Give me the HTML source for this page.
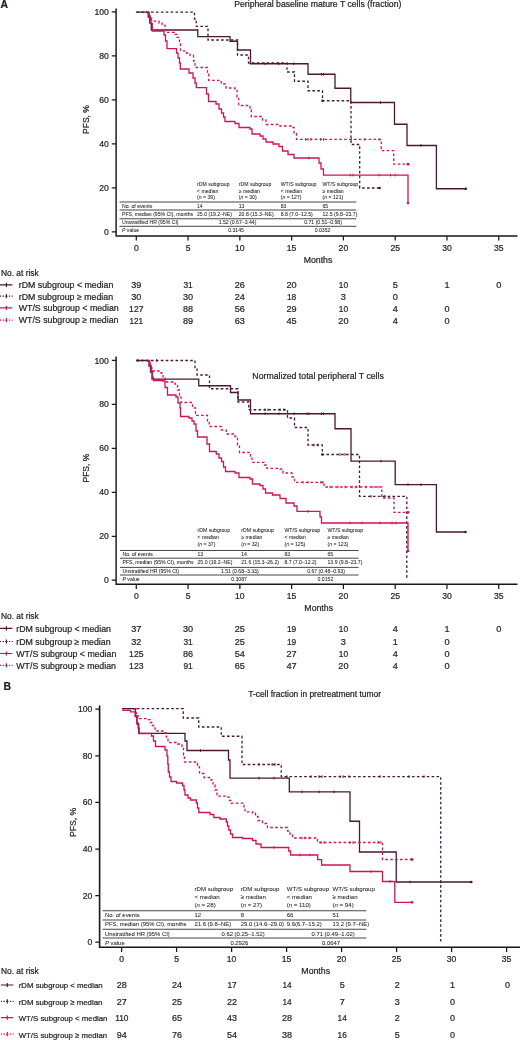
<!DOCTYPE html>
<html lang="en"><head><meta charset="utf-8"><title>PFS by T-cell subgroups</title>
<style>html,body{margin:0;padding:0;background:#fff}svg{display:block}text{font-family:"Liberation Sans",sans-serif;fill:#231f20;stroke:#231f20;stroke-width:0.22px}.t text{stroke-width:0.06px}</style>
</head><body>
<svg width="520" height="1040" viewBox="0 0 520 1040">
<rect width="520" height="1040" fill="#fff"/>
<g id="chart1">
<text x="0.6" y="8.2" font-size="10.4" font-weight="bold">A</text>
<text x="317.8" y="7.1" font-size="8.66" text-anchor="middle">Peripheral baseline mature T cells (fraction)</text>
<path d="M116.1 8.6V235.9H517.5" fill="none" stroke="#1a1718" stroke-width="1.45"/>
<text x="108.9" y="14.8" font-size="8.6" text-anchor="end">100</text>
<text x="108.9" y="58.81" font-size="8.6" text-anchor="end">80</text>
<text x="108.9" y="102.82" font-size="8.6" text-anchor="end">60</text>
<text x="108.9" y="146.83" font-size="8.6" text-anchor="end">40</text>
<text x="108.9" y="190.84" font-size="8.6" text-anchor="end">20</text>
<text x="108.9" y="234.85" font-size="8.6" text-anchor="end">0</text>
<text x="136.3" y="251.1" font-size="8.6" text-anchor="middle">0</text>
<text x="188.08" y="251.1" font-size="8.6" text-anchor="middle">5</text>
<text x="239.85" y="251.1" font-size="8.6" text-anchor="middle">10</text>
<text x="291.62" y="251.1" font-size="8.6" text-anchor="middle">15</text>
<text x="343.4" y="251.1" font-size="8.6" text-anchor="middle">20</text>
<text x="395.18" y="251.1" font-size="8.6" text-anchor="middle">25</text>
<text x="446.95" y="251.1" font-size="8.6" text-anchor="middle">30</text>
<text x="498.73" y="251.1" font-size="8.6" text-anchor="middle">35</text>
<path d="M116.1 11.75h-4.3M116.1 55.76h-4.3M116.1 99.77h-4.3M116.1 143.78h-4.3M116.1 187.79h-4.3M116.1 231.8h-4.3M136.3 235.9v4.7M188.08 235.9v4.7M239.85 235.9v4.7M291.62 235.9v4.7M343.4 235.9v4.7M395.18 235.9v4.7M446.95 235.9v4.7M498.73 235.9v4.7" fill="none" stroke="#1a1718" stroke-width="1.25"/>
<text transform="translate(88.9 119.58) rotate(-90)" font-size="8.5" text-anchor="middle">PFS, %</text>
<path d="M119.5 202H356.3M119.5 210H356.3M119.5 218.75H356.3M119.5 226.3H356.3" fill="none" stroke="#1a1718" stroke-width="0.8"/>
<g class="t" font-size="5.15">
<text x="197" y="186.3">rDM subgroup</text>
<text x="197" y="192.7">&lt; median</text>
<text x="197" y="199.3">(<tspan font-style="italic">n</tspan> = 39)</text>
<text x="238.75" y="186.3">rDM subgroup</text>
<text x="238.75" y="192.7">≥ median</text>
<text x="238.75" y="199.3">(<tspan font-style="italic">n</tspan> = 30)</text>
<text x="280.75" y="186.3">WT/S subgroup</text>
<text x="280.75" y="192.7">&lt; median</text>
<text x="280.75" y="199.3">(<tspan font-style="italic">n</tspan> = 127)</text>
<text x="322.5" y="186.3">WT/S subgroup</text>
<text x="322.5" y="192.7">≥ median</text>
<text x="322.5" y="199.3">(<tspan font-style="italic">n</tspan> = 121)</text>
<text x="122" y="207.6" font-size="5.15">No. of events</text>
<text x="122" y="216.3" font-size="5.15">PFS, median (95% CI), months</text>
<text x="122" y="224.3" font-size="5.15">Unstratified HR (95% CI)</text>
<text x="122" y="232.1"><tspan font-style="italic">P</tspan> value</text>
<text x="197" y="207.6" font-size="5.15">14</text>
<text x="238.75" y="207.6" font-size="5.15">13</text>
<text x="280.75" y="207.6" font-size="5.15">83</text>
<text x="322.5" y="207.6" font-size="5.15">65</text>
<text x="197" y="216.3" font-size="5.15">25.0 (19.2–NE)</text>
<text x="238.75" y="216.3" font-size="5.15">20.8 (15.3–NE)</text>
<text x="280.75" y="216.3" font-size="5.15">8.8 (7.0–12.5)</text>
<text x="322.5" y="216.3" font-size="5.15">12.5 (9.8–23.7)</text>
<text x="237.5" y="224.3" font-size="5.15" text-anchor="middle">1.52 (0.67–3.44)</text>
<text x="323.1" y="224.3" font-size="5.15" text-anchor="middle">0.71 (0.51–0.98)</text>
<text x="236" y="232.1" font-size="5.15" text-anchor="middle">0.3145</text>
<text x="322.6" y="232.1" font-size="5.15" text-anchor="middle">0.0352</text>
</g>
<path d="M136.3 12.05H148.2V17H149.8V23H151.3V30H197.8V36.7H230V41.25H237.5V50H250.5V63.75H308V74.25H335V88.25H350.75V102.5H394.5V124.25H407V145.5H436.4V188.75H465.75" fill="none" stroke="#4a1830" stroke-width="1.3" stroke-linejoin="miter"/>
<path d="M265 62.45v2.6M278.75 62.45v2.6M293.75 62.45v2.6M321.5 72.95v2.6M323.5 72.95v2.6M380.5 101.2v2.6M421 144.2v2.6" fill="none" stroke="#4a1830" stroke-width="1"/>
<path d="M136.3 12.05H194.5V19H196.25V26.4H208V40H237.5V55H248.5V63H287V72H294.5V81.25H308V90.75H322.5V100.75H351V144.5H359.7V188H379.5" fill="none" stroke="#4a1830" stroke-width="1.3" stroke-dasharray="2.6 2.3" stroke-linejoin="miter"/>
<path d="M147.6 12.6H149.3V17.5H150.8V23.5H152.3V31H164V35H165.5V41H167V48.7H176.5V53H178V58H179.5V63H180.3V69H189V73H193V78H195V83H196.3V87.7H206.5V94H208.5V101.5H216V104H219V109H221.5V113H223.5V117H225V121.5H235V123.5H239V127.5H250V129H252V134H260V136H263V139H266V142H273V144H279V146.5H282.5V151H288V154.5H294V158H319V163H321V169H323.5V175.1H408V203H408" fill="none" stroke="#cc1553" stroke-width="1.3" stroke-linejoin="miter"/>
<path d="M308.7 156.7v2.6M350.3 173.8v2.6M353 173.8v2.6M379 173.8v2.6M390.5 173.8v2.6M395.2 173.8v2.6" fill="none" stroke="#cc1553" stroke-width="1"/>
<path d="M147.8 12.3H148.5V15H150V18.5H151.5V21.2H159V23H162V25.2H165V28.5H165.7V32.3H174.4V34.5H177V37.3H179.5V44H180.5V50.8H186.5V53H190V55.5H193.5V61H195V67.5H207.5V74H208.75V80.3H221.25V84H226V88H235V89H237V97H238.75V105.5H250V110H251.25V116.5H262.5V120H266V124.5H280V126H291V127.5H294V133H296.5V139.4H381.25V150.7H393.75V164.2H408" fill="none" stroke="#cc1553" stroke-width="1.3" stroke-dasharray="2.6 2.3" stroke-linejoin="miter"/>
<path d="M305.5 138.1v2.6M308 138.1v2.6M311 138.1v2.6M320.5 138.1v2.6M323.5 138.1v2.6M351.4 138.1v2.6M364.9 138.1v2.6M379 138.1v2.6" fill="none" stroke="#cc1553" stroke-width="1"/>
<circle cx="322.5" cy="100.75" r="1.3" fill="#4a1830"/>
<circle cx="379.5" cy="188" r="1.35" fill="#4a1830"/>
<circle cx="465.75" cy="188.75" r="1.35" fill="#4a1830"/>
<circle cx="408" cy="164.2" r="1.45" fill="#cc1553"/>
<circle cx="408" cy="203" r="1.35" fill="#cc1553"/>
<text x="318" y="263" font-size="8.75" text-anchor="middle">Months</text>
<text x="1" y="276" font-size="8.4">No. at risk</text>
<text x="18.75" y="287.7" font-size="8.8">rDM subgroup &lt; median</text>
<path d="M0 284.9H12.4M6.4 282.8V287" stroke="#4a1830" stroke-width="1.2" fill="none"/>
<text x="136.3" y="288.4" font-size="9.15" text-anchor="middle">39</text>
<text x="188.08" y="288.4" font-size="9.15" text-anchor="middle" textLength="9.32" lengthAdjust="spacingAndGlyphs">31</text>
<text x="239.85" y="288.4" font-size="9.15" text-anchor="middle">26</text>
<text x="291.62" y="288.4" font-size="9.15" text-anchor="middle">20</text>
<text x="343.4" y="288.4" font-size="9.15" text-anchor="middle" textLength="9.32" lengthAdjust="spacingAndGlyphs">10</text>
<text x="395.18" y="288.4" font-size="9.15" text-anchor="middle">5</text>
<text x="446.95" y="288.4" font-size="9.15" text-anchor="middle">1</text>
<text x="498.73" y="288.4" font-size="9.15" text-anchor="middle">0</text>
<text x="18.75" y="299.5" font-size="8.8">rDM subgroup ≥ median</text>
<path d="M0 296.2H1M2.6 296.2H4M9 296.2H10.2M11.7 296.2H12.7" stroke="#4a1830" stroke-width="1.2" fill="none"/>
<path d="M5.3 296.2H7.5M6.4 294.1V298.3" stroke="#4a1830" stroke-width="1.15" fill="none"/>
<text x="136.3" y="300.2" font-size="9.15" text-anchor="middle">30</text>
<text x="188.08" y="300.2" font-size="9.15" text-anchor="middle">30</text>
<text x="239.85" y="300.2" font-size="9.15" text-anchor="middle">24</text>
<text x="291.62" y="300.2" font-size="9.15" text-anchor="middle" textLength="9.32" lengthAdjust="spacingAndGlyphs">18</text>
<text x="343.4" y="300.2" font-size="9.15" text-anchor="middle">3</text>
<text x="395.18" y="300.2" font-size="9.15" text-anchor="middle">0</text>
<text x="18.75" y="311.1" font-size="8.8">WT/S subgroup &lt; median</text>
<path d="M0 307.9H12.4M6.4 305.8V310" stroke="#cc1553" stroke-width="1.2" fill="none"/>
<text x="136.3" y="311.8" font-size="9.15" text-anchor="middle" textLength="14.41" lengthAdjust="spacingAndGlyphs">127</text>
<text x="188.08" y="311.8" font-size="9.15" text-anchor="middle">88</text>
<text x="239.85" y="311.8" font-size="9.15" text-anchor="middle">56</text>
<text x="291.62" y="311.8" font-size="9.15" text-anchor="middle">29</text>
<text x="343.4" y="311.8" font-size="9.15" text-anchor="middle" textLength="9.32" lengthAdjust="spacingAndGlyphs">10</text>
<text x="395.18" y="311.8" font-size="9.15" text-anchor="middle">4</text>
<text x="446.95" y="311.8" font-size="9.15" text-anchor="middle">0</text>
<text x="18.75" y="322.8" font-size="8.8">WT/S subgroup ≥ median</text>
<path d="M0 320.2H1M2.6 320.2H4M9 320.2H10.2M11.7 320.2H12.7" stroke="#cc1553" stroke-width="1.2" fill="none"/>
<path d="M5.3 320.2H7.5M6.4 318.1V322.3" stroke="#cc1553" stroke-width="1.15" fill="none"/>
<text x="136.3" y="323.5" font-size="9.15" text-anchor="middle" textLength="13.56" lengthAdjust="spacingAndGlyphs">121</text>
<text x="188.08" y="323.5" font-size="9.15" text-anchor="middle">89</text>
<text x="239.85" y="323.5" font-size="9.15" text-anchor="middle">63</text>
<text x="291.62" y="323.5" font-size="9.15" text-anchor="middle">45</text>
<text x="343.4" y="323.5" font-size="9.15" text-anchor="middle">20</text>
<text x="395.18" y="323.5" font-size="9.15" text-anchor="middle">4</text>
<text x="446.95" y="323.5" font-size="9.15" text-anchor="middle">0</text>
</g>
<g id="chart2">
<text x="318.1" y="379.4" font-size="8.72" text-anchor="middle">Normalized total peripheral T cells</text>
<path d="M116.1 356.4V584.3H517.5" fill="none" stroke="#1a1718" stroke-width="1.45"/>
<text x="108.9" y="363.5" font-size="8.6" text-anchor="end">100</text>
<text x="108.9" y="407.45" font-size="8.6" text-anchor="end">80</text>
<text x="108.9" y="451.4" font-size="8.6" text-anchor="end">60</text>
<text x="108.9" y="495.35" font-size="8.6" text-anchor="end">40</text>
<text x="108.9" y="539.3" font-size="8.6" text-anchor="end">20</text>
<text x="108.9" y="583.25" font-size="8.6" text-anchor="end">0</text>
<text x="136.3" y="598.7" font-size="8.6" text-anchor="middle">0</text>
<text x="188.08" y="598.7" font-size="8.6" text-anchor="middle">5</text>
<text x="239.85" y="598.7" font-size="8.6" text-anchor="middle">10</text>
<text x="291.62" y="598.7" font-size="8.6" text-anchor="middle">15</text>
<text x="343.4" y="598.7" font-size="8.6" text-anchor="middle">20</text>
<text x="395.18" y="598.7" font-size="8.6" text-anchor="middle">25</text>
<text x="446.95" y="598.7" font-size="8.6" text-anchor="middle">30</text>
<text x="498.73" y="598.7" font-size="8.6" text-anchor="middle">35</text>
<path d="M116.1 360.45h-4.3M116.1 404.4h-4.3M116.1 448.35h-4.3M116.1 492.3h-4.3M116.1 536.25h-4.3M116.1 580.2h-4.3M136.3 584.3v4.7M188.08 584.3v4.7M239.85 584.3v4.7M291.62 584.3v4.7M343.4 584.3v4.7M395.18 584.3v4.7M446.95 584.3v4.7M498.73 584.3v4.7" fill="none" stroke="#1a1718" stroke-width="1.25"/>
<text transform="translate(88.9 468.13) rotate(-90)" font-size="8.5" text-anchor="middle">PFS, %</text>
<path d="M120 550.5H358.6M120 558.2H358.6M120 567.4H358.6M120 575H358.6" fill="none" stroke="#1a1718" stroke-width="0.8"/>
<g class="t" font-size="5.15">
<text x="197.5" y="532.3">rDM subgroup</text>
<text x="197.5" y="539.3">&lt; median</text>
<text x="197.5" y="546.3">(<tspan font-style="italic">n</tspan> = 37)</text>
<text x="241.25" y="532.3">rDM subgroup</text>
<text x="241.25" y="539.3">≥ median</text>
<text x="241.25" y="546.3">(<tspan font-style="italic">n</tspan> = 32)</text>
<text x="284.5" y="532.3">WT/S subgroup</text>
<text x="284.5" y="539.3">&lt; median</text>
<text x="284.5" y="546.3">(<tspan font-style="italic">n</tspan> = 125)</text>
<text x="327.5" y="532.3">WT/S subgroup</text>
<text x="327.5" y="539.3">≥ median</text>
<text x="327.5" y="546.3">(<tspan font-style="italic">n</tspan> = 123)</text>
<text x="122.5" y="555.7" font-size="5.15">No. of events</text>
<text x="122.5" y="564.3" font-size="5.15">PFS, median (95% CI), months</text>
<text x="122.5" y="573.1" font-size="5.15">Unstratified HR (95% CI)</text>
<text x="122.5" y="580.8"><tspan font-style="italic">P</tspan> value</text>
<text x="197.5" y="555.7" font-size="5.15">13</text>
<text x="241.25" y="555.7" font-size="5.15">14</text>
<text x="284.5" y="555.7" font-size="5.15">83</text>
<text x="327.5" y="555.7" font-size="5.15">65</text>
<text x="197.5" y="564.3" font-size="5.15">25.0 (19.2–NE)</text>
<text x="241.25" y="564.3" font-size="5.15">21.6 (15.3–26.2)</text>
<text x="284.5" y="564.3" font-size="5.15">8.7 (7.0–12.2)</text>
<text x="327.5" y="564.3" font-size="5.15">13.9 (9.8–23.7)</text>
<text x="239.8" y="573.1" font-size="5.15" text-anchor="middle">1.51 (0.68–3.33)</text>
<text x="326" y="573.1" font-size="5.15" text-anchor="middle">0.67 (0.48–0.93)</text>
<text x="239" y="580.8" font-size="5.15" text-anchor="middle">0.3087</text>
<text x="325.4" y="580.8" font-size="5.15" text-anchor="middle">0.0152</text>
</g>
<path d="M136.3 360.5H149V366H150.5V372H152V379.1H198.75V385.75H230.5V392.5H238V400H250.5V413.75H335V428.75H351V461.1H395.2V484.7H436.4V532H465.5" fill="none" stroke="#4a1830" stroke-width="1.3" stroke-linejoin="miter"/>
<path d="M137.7 359.2v2.6M265 412.45v2.6M279 412.45v2.6M294 412.45v2.6M307 412.45v2.6M309 412.45v2.6M321.5 412.45v2.6M323.5 412.45v2.6M381 459.8v2.6M408 483.4v2.6M421 483.4v2.6" fill="none" stroke="#4a1830" stroke-width="1"/>
<path d="M136.3 360.5H195V367.5H197V375H209.5V388.75H238V402H248.75V409.75H287.5V418H294.5V427.5H308V445H322.3V454.5H359.5V496.3H406.8V579.5" fill="none" stroke="#4a1830" stroke-width="1.3" stroke-dasharray="2.6 2.3" stroke-linejoin="miter"/>
<path d="M156.4 359.2v2.6M265 408.45v2.6M268 408.45v2.6M280 408.45v2.6M284 408.45v2.6M314 443.7v2.6M318 443.7v2.6M340 453.2v2.6M345 453.2v2.6M371 495v2.6M385 495v2.6" fill="none" stroke="#4a1830" stroke-width="1"/>
<path d="M147.6 361.1H149.9V366H151.3V371H152.5V377.5H153.4V380.5H162.5V381H165V387.5H167.5V395H176V397H178V403H180V408H180.5V416.5H189V418H192V421H194V424H196V431H197.5V437H207V444H209.5V451.5H216.25V454H219V458H221.5V461.5H223.5V467H225.5V471.5H235V473H239V477.5H250V479H252.5V484H260V485.5H263V489H265.5V493H272.5V495H280V498.5H286V503H294V506H297V511.4H320V517H321.5V523H408V551H408" fill="none" stroke="#cc1553" stroke-width="1.3" stroke-linejoin="miter"/>
<path d="M308 510.1v2.6M350 521.7v2.6M362 521.7v2.6M380 521.7v2.6M392 521.7v2.6M396 521.7v2.6" fill="none" stroke="#cc1553" stroke-width="1"/>
<path d="M147.8 360.8H149V364H150.5V368H152V371H161V373H163V378H165V382H175V384H177.5V390H179.5V396H181V402.5H192.5V408H195.5V415.3H207.5V421H209.25V426.5H221.25V430H226.25V434H235V436.5H237.5V445H239.5V452.5H250.5V457H252V462.3H264.5V465H267V468.4H280V469H283V473H292V477H294.5V482.3H324V487H381.8V498H394V512.4H408" fill="none" stroke="#cc1553" stroke-width="1.3" stroke-dasharray="2.6 2.3" stroke-linejoin="miter"/>
<path d="M303 481v2.6M308 481v2.6M321 481v2.6M323 481v2.6M330 485.7v2.6M338 485.7v2.6M345 485.7v2.6M352 485.7v2.6M356 485.7v2.6M366 485.7v2.6M373 485.7v2.6M378 485.7v2.6" fill="none" stroke="#cc1553" stroke-width="1"/>
<circle cx="322.3" cy="454.5" r="1.3" fill="#4a1830"/>
<circle cx="465.5" cy="532" r="1.35" fill="#4a1830"/>
<circle cx="408" cy="512.4" r="1.45" fill="#cc1553"/>
<circle cx="408" cy="551" r="1.35" fill="#cc1553"/>
<text x="318.7" y="610.6" font-size="8.75" text-anchor="middle">Months</text>
<text x="1" y="618.5" font-size="8.4">No. at risk</text>
<text x="16.3" y="631.5" font-size="8.8">rDM subgroup &lt; median</text>
<path d="M0 628.3H12.4M6.4 626.2V630.4" stroke="#4a1830" stroke-width="1.2" fill="none"/>
<text x="136.3" y="631.7" font-size="9.15" text-anchor="middle">37</text>
<text x="188.08" y="631.7" font-size="9.15" text-anchor="middle">30</text>
<text x="239.85" y="631.7" font-size="9.15" text-anchor="middle">25</text>
<text x="291.62" y="631.7" font-size="9.15" text-anchor="middle" textLength="9.32" lengthAdjust="spacingAndGlyphs">19</text>
<text x="343.4" y="631.7" font-size="9.15" text-anchor="middle" textLength="9.32" lengthAdjust="spacingAndGlyphs">10</text>
<text x="395.18" y="631.7" font-size="9.15" text-anchor="middle">4</text>
<text x="446.95" y="631.7" font-size="9.15" text-anchor="middle">1</text>
<text x="498.73" y="631.7" font-size="9.15" text-anchor="middle">0</text>
<text x="16.3" y="645" font-size="8.8">rDM subgroup ≥ median</text>
<path d="M0 641.5H1M2.6 641.5H4M9 641.5H10.2M11.7 641.5H12.7" stroke="#4a1830" stroke-width="1.2" fill="none"/>
<path d="M5.3 641.5H7.5M6.4 639.4V643.6" stroke="#4a1830" stroke-width="1.15" fill="none"/>
<text x="136.3" y="645.2" font-size="9.15" text-anchor="middle">32</text>
<text x="188.08" y="645.2" font-size="9.15" text-anchor="middle" textLength="9.32" lengthAdjust="spacingAndGlyphs">31</text>
<text x="239.85" y="645.2" font-size="9.15" text-anchor="middle">25</text>
<text x="291.62" y="645.2" font-size="9.15" text-anchor="middle" textLength="9.32" lengthAdjust="spacingAndGlyphs">19</text>
<text x="343.4" y="645.2" font-size="9.15" text-anchor="middle">3</text>
<text x="395.18" y="645.2" font-size="9.15" text-anchor="middle">1</text>
<text x="446.95" y="645.2" font-size="9.15" text-anchor="middle">0</text>
<text x="16.3" y="656.8" font-size="8.8">WT/S subgroup &lt; median</text>
<path d="M0 653.5H12.4M6.4 651.4V655.6" stroke="#cc1553" stroke-width="1.2" fill="none"/>
<text x="136.3" y="657" font-size="9.15" text-anchor="middle" textLength="14.41" lengthAdjust="spacingAndGlyphs">125</text>
<text x="188.08" y="657" font-size="9.15" text-anchor="middle">86</text>
<text x="239.85" y="657" font-size="9.15" text-anchor="middle">54</text>
<text x="291.62" y="657" font-size="9.15" text-anchor="middle">27</text>
<text x="343.4" y="657" font-size="9.15" text-anchor="middle" textLength="9.32" lengthAdjust="spacingAndGlyphs">10</text>
<text x="395.18" y="657" font-size="9.15" text-anchor="middle">4</text>
<text x="446.95" y="657" font-size="9.15" text-anchor="middle">0</text>
<text x="16.3" y="668.6" font-size="8.8">WT/S subgroup ≥ median</text>
<path d="M0 665.3H1M2.6 665.3H4M9 665.3H10.2M11.7 665.3H12.7" stroke="#cc1553" stroke-width="1.2" fill="none"/>
<path d="M5.3 665.3H7.5M6.4 663.2V667.4" stroke="#cc1553" stroke-width="1.15" fill="none"/>
<text x="136.3" y="668.8" font-size="9.15" text-anchor="middle" textLength="14.41" lengthAdjust="spacingAndGlyphs">123</text>
<text x="188.08" y="668.8" font-size="9.15" text-anchor="middle" textLength="9.32" lengthAdjust="spacingAndGlyphs">91</text>
<text x="239.85" y="668.8" font-size="9.15" text-anchor="middle">65</text>
<text x="291.62" y="668.8" font-size="9.15" text-anchor="middle">47</text>
<text x="343.4" y="668.8" font-size="9.15" text-anchor="middle">20</text>
<text x="395.18" y="668.8" font-size="9.15" text-anchor="middle">4</text>
<text x="446.95" y="668.8" font-size="9.15" text-anchor="middle">0</text>
</g>
<g id="chart3">
<text x="3.4" y="690.2" font-size="10.4" font-weight="bold">B</text>
<text x="314.6" y="696.9" font-size="8.42" text-anchor="middle">T-cell fraction in pretreatment tumor</text>
<path d="M99.6 705.5V947.3H520" fill="none" stroke="#1a1718" stroke-width="1.6"/>
<text x="92.4" y="712.25" font-size="8.6" text-anchor="end">100</text>
<text x="92.4" y="758.85" font-size="8.6" text-anchor="end">80</text>
<text x="92.4" y="805.45" font-size="8.6" text-anchor="end">60</text>
<text x="92.4" y="852.05" font-size="8.6" text-anchor="end">40</text>
<text x="92.4" y="898.65" font-size="8.6" text-anchor="end">20</text>
<text x="92.4" y="945.25" font-size="8.6" text-anchor="end">0</text>
<text x="121.6" y="961.5" font-size="8.6" text-anchor="middle">0</text>
<text x="176.6" y="961.5" font-size="8.6" text-anchor="middle">5</text>
<text x="231.6" y="961.5" font-size="8.6" text-anchor="middle">10</text>
<text x="286.6" y="961.5" font-size="8.6" text-anchor="middle">15</text>
<text x="341.6" y="961.5" font-size="8.6" text-anchor="middle">20</text>
<text x="396.6" y="961.5" font-size="8.6" text-anchor="middle">25</text>
<text x="451.6" y="961.5" font-size="8.6" text-anchor="middle">30</text>
<text x="506.6" y="961.5" font-size="8.6" text-anchor="middle">35</text>
<path d="M99.6 709.2h-4.3M99.6 755.8h-4.3M99.6 802.4h-4.3M99.6 849h-4.3M99.6 895.6h-4.3M99.6 942.2h-4.3M121.6 947.3v4.7M176.6 947.3v4.7M231.6 947.3v4.7M286.6 947.3v4.7M341.6 947.3v4.7M396.6 947.3v4.7M451.6 947.3v4.7M506.6 947.3v4.7" fill="none" stroke="#1a1718" stroke-width="1.25"/>
<text transform="translate(75.6 822.4) rotate(-90)" font-size="8.7" text-anchor="middle">PFS, %</text>
<path d="M102.5 910.75H366.3M102.5 920H366.3M102.5 929.25H366.3M102.5 938H366.3" fill="none" stroke="#1a1718" stroke-width="0.8"/>
<g class="t" font-size="5.9">
<text x="194.5" y="891.3" font-size="6.1">rDM subgroup</text>
<text x="194.5" y="899.2" font-size="6.1">&lt; median</text>
<text x="194.5" y="906.9" font-size="6.1">(<tspan font-style="italic">n</tspan> = 28)</text>
<text x="240.75" y="891.3" font-size="6.1">rDM subgroup</text>
<text x="240.75" y="899.2" font-size="6.1">≥ median</text>
<text x="240.75" y="906.9" font-size="6.1">(<tspan font-style="italic">n</tspan> = 27)</text>
<text x="286.75" y="891.3" font-size="6.1">WT/S subgroup</text>
<text x="286.75" y="899.2" font-size="6.1">&lt; median</text>
<text x="286.75" y="906.9" font-size="6.1">(<tspan font-style="italic">n</tspan> = 110)</text>
<text x="332.5" y="891.3" font-size="6.1">WT/S subgroup</text>
<text x="332.5" y="899.2" font-size="6.1">≥ median</text>
<text x="332.5" y="906.9" font-size="6.1">(<tspan font-style="italic">n</tspan> = 94)</text>
<text x="105" y="916.9" font-size="5.9">No. of events</text>
<text x="105" y="926.3" font-size="5.9">PFS, median (95% CI), months</text>
<text x="105" y="935.6" font-size="5.9">Unstratified HR (95% CI)</text>
<text x="105" y="944.6"><tspan font-style="italic">P</tspan> value</text>
<text x="194.5" y="916.9" font-size="5.9">12</text>
<text x="240.75" y="916.9" font-size="5.9">8</text>
<text x="286.75" y="916.9" font-size="5.9">66</text>
<text x="332.5" y="916.9" font-size="5.9">51</text>
<text x="194.5" y="926.3" font-size="5.9">21.6 (9.8–NE)</text>
<text x="240.75" y="926.3" font-size="5.9">29.0 (14.6–29.0)</text>
<text x="286.75" y="926.3" font-size="5.9">9.6(6.7–15.2)</text>
<text x="332.5" y="926.3" font-size="5.9">13.2 (9.7–NE)</text>
<text x="243.1" y="935.6" font-size="5.9" text-anchor="middle">0.62 (0.25–1.52)</text>
<text x="333.1" y="935.6" font-size="5.9" text-anchor="middle">0.71 (0.49–1.02)</text>
<text x="239.4" y="944.6" font-size="5.9" text-anchor="middle">0.2926</text>
<text x="331" y="944.6" font-size="5.9" text-anchor="middle">0.0647</text>
</g>
<path d="M122.2 708.6H135.4V716H137V724H138.7V733.3H185V741H187V750.5H228.5V760H230V778.1H289.3V791.8H350V821.25H359.5V852H396.25V882H471.25" fill="none" stroke="#4a1830" stroke-width="1.3" stroke-linejoin="miter"/>
<path d="M200.5 749.2v2.6M259 776.8v2.6M274 776.8v2.6M302 790.5v2.6M319 790.5v2.6M334 790.5v2.6M410 880.7v2.6M440.75 880.7v2.6" fill="none" stroke="#4a1830" stroke-width="1"/>
<path d="M122.2 708.7H183.25V718H198.75V727H221.25V736.25H242V764.5H281.25V776.6H440.75V942.3" fill="none" stroke="#4a1830" stroke-width="1.3" stroke-dasharray="2.6 2.3" stroke-linejoin="miter"/>
<path d="M259 763.2v2.6M272 763.2v2.6M275 763.2v2.6M287 775.3v2.6M311 775.3v2.6M319 775.3v2.6M322 775.3v2.6M340 775.3v2.6M343 775.3v2.6M349 775.3v2.6M380 775.3v2.6M409 775.3v2.6M424 775.3v2.6" fill="none" stroke="#4a1830" stroke-width="1"/>
<path d="M122.2 710.4H130.5V711.8H135.2V716.5H136.8V723H138.1V728H139.2V733.5H151.5V736H153.5V741H155.5V746.5H165V750H167V756H167.8V764H168.3V772H169.5V777H171V781.5H176.5V783H182.5V785.5H184V790H185V795H188V798H190.5V800H196.3V803H197.5V808H198.8V812.5H210V814.5H213.8V817.5H220V819H226.3V822H227.5V826H228.8V830H230.5V834H232.5V837.5H242.5V838.5H252.5V840.5H256V844H261V847.5H288.8V851H290.5V855H317.7V859.7H321.6V865H350V871.5H382.5V881.5H394.8V902.3H412" fill="none" stroke="#cc1553" stroke-width="1.3" stroke-linejoin="miter"/>
<path d="M274 846.2v2.6M300 853.7v2.6M310 853.7v2.6M371 870.2v2.6M390 880.2v2.6" fill="none" stroke="#cc1553" stroke-width="1"/>
<path d="M134 709H136.2V713.5H138V718.6H147.5V719.6H150V722.5H152.5V725.5H155V729H157V731H163.8V733H166.3V737H168V742.5H177.5V744H182V747.5H183.5V755H184.5V762H197.5V767H199.5V773.5H204V777.5H211V780H213V785H215V790H217V796.2H227.7V797.2H229.5V800.5H231V803.2H243V804.8H244V808.5H245V811.8H252.8V813H255.5V816.5H258V820.5H262.5V823.5H267.5V827.5H287.5V831H290V835H292.5V838H317.5V842.5H382.5V859.5H412" fill="none" stroke="#cc1553" stroke-width="1.3" stroke-dasharray="2.6 2.3" stroke-linejoin="miter"/>
<path d="M302 836.7v2.6M305 836.7v2.6M309 836.7v2.6M321 841.2v2.6M324 841.2v2.6M350 841.2v2.6M353 841.2v2.6M378 841.2v2.6M381 841.2v2.6" fill="none" stroke="#cc1553" stroke-width="1"/>
<circle cx="471.25" cy="882" r="1.35" fill="#4a1830"/>
<circle cx="412" cy="859.5" r="1.45" fill="#cc1553"/>
<circle cx="412" cy="902.3" r="1.35" fill="#cc1553"/>
<text x="315.7" y="973.7" font-size="8.75" text-anchor="middle">Months</text>
<text x="1" y="974.3" font-size="8.4">No. at risk</text>
<text x="18.75" y="988.3" font-size="7.8">rDM subgroup &lt; median</text>
<path d="M0.9 985H13.3M7.3 982.9V987.1" stroke="#4a1830" stroke-width="1.2" fill="none"/>
<text x="121.8" y="988.3" font-size="9" text-anchor="middle">28</text>
<text x="176.9" y="988.3" font-size="9" text-anchor="middle">24</text>
<text x="232" y="988.3" font-size="9" text-anchor="middle" textLength="9.16" lengthAdjust="spacingAndGlyphs">17</text>
<text x="287.1" y="988.3" font-size="9" text-anchor="middle" textLength="9.16" lengthAdjust="spacingAndGlyphs">14</text>
<text x="342.2" y="988.3" font-size="9" text-anchor="middle">5</text>
<text x="397.3" y="988.3" font-size="9" text-anchor="middle">2</text>
<text x="452.4" y="988.3" font-size="9" text-anchor="middle">1</text>
<text x="507.5" y="988.3" font-size="9" text-anchor="middle">0</text>
<text x="18.75" y="1004.6" font-size="7.8">rDM subgroup ≥ median</text>
<path d="M0.9 1001.3H1.9M3.5 1001.3H4.9M9.9 1001.3H11.1M12.6 1001.3H13.6" stroke="#4a1830" stroke-width="1.2" fill="none"/>
<path d="M6.2 1001.3H8.4M7.3 999.2V1003.4" stroke="#4a1830" stroke-width="1.15" fill="none"/>
<text x="121.8" y="1004.6" font-size="9" text-anchor="middle">27</text>
<text x="176.9" y="1004.6" font-size="9" text-anchor="middle">25</text>
<text x="232" y="1004.6" font-size="9" text-anchor="middle">22</text>
<text x="287.1" y="1004.6" font-size="9" text-anchor="middle" textLength="9.16" lengthAdjust="spacingAndGlyphs">14</text>
<text x="342.2" y="1004.6" font-size="9" text-anchor="middle">7</text>
<text x="397.3" y="1004.6" font-size="9" text-anchor="middle">3</text>
<text x="452.4" y="1004.6" font-size="9" text-anchor="middle">0</text>
<text x="18.75" y="1021.2" font-size="7.8">WT/S subgroup &lt; median</text>
<path d="M0.9 1017.6H13.3M7.3 1015.5V1019.7" stroke="#cc1553" stroke-width="1.2" fill="none"/>
<text x="121.8" y="1021.2" font-size="9" text-anchor="middle" textLength="13.31" lengthAdjust="spacingAndGlyphs">110</text>
<text x="176.9" y="1021.2" font-size="9" text-anchor="middle">65</text>
<text x="232" y="1021.2" font-size="9" text-anchor="middle">43</text>
<text x="287.1" y="1021.2" font-size="9" text-anchor="middle">28</text>
<text x="342.2" y="1021.2" font-size="9" text-anchor="middle" textLength="9.16" lengthAdjust="spacingAndGlyphs">14</text>
<text x="397.3" y="1021.2" font-size="9" text-anchor="middle">2</text>
<text x="452.4" y="1021.2" font-size="9" text-anchor="middle">0</text>
<text x="18.75" y="1037.5" font-size="7.8">WT/S subgroup ≥ median</text>
<path d="M0.9 1034.2H1.9M3.5 1034.2H4.9M9.9 1034.2H11.1M12.6 1034.2H13.6" stroke="#cc1553" stroke-width="1.2" fill="none"/>
<path d="M6.2 1034.2H8.4M7.3 1032.1V1036.3" stroke="#cc1553" stroke-width="1.15" fill="none"/>
<text x="121.8" y="1037.5" font-size="9" text-anchor="middle">94</text>
<text x="176.9" y="1037.5" font-size="9" text-anchor="middle">76</text>
<text x="232" y="1037.5" font-size="9" text-anchor="middle">54</text>
<text x="287.1" y="1037.5" font-size="9" text-anchor="middle">38</text>
<text x="342.2" y="1037.5" font-size="9" text-anchor="middle" textLength="9.16" lengthAdjust="spacingAndGlyphs">16</text>
<text x="397.3" y="1037.5" font-size="9" text-anchor="middle">5</text>
<text x="452.4" y="1037.5" font-size="9" text-anchor="middle">0</text>
</g>
</svg>
</body></html>
